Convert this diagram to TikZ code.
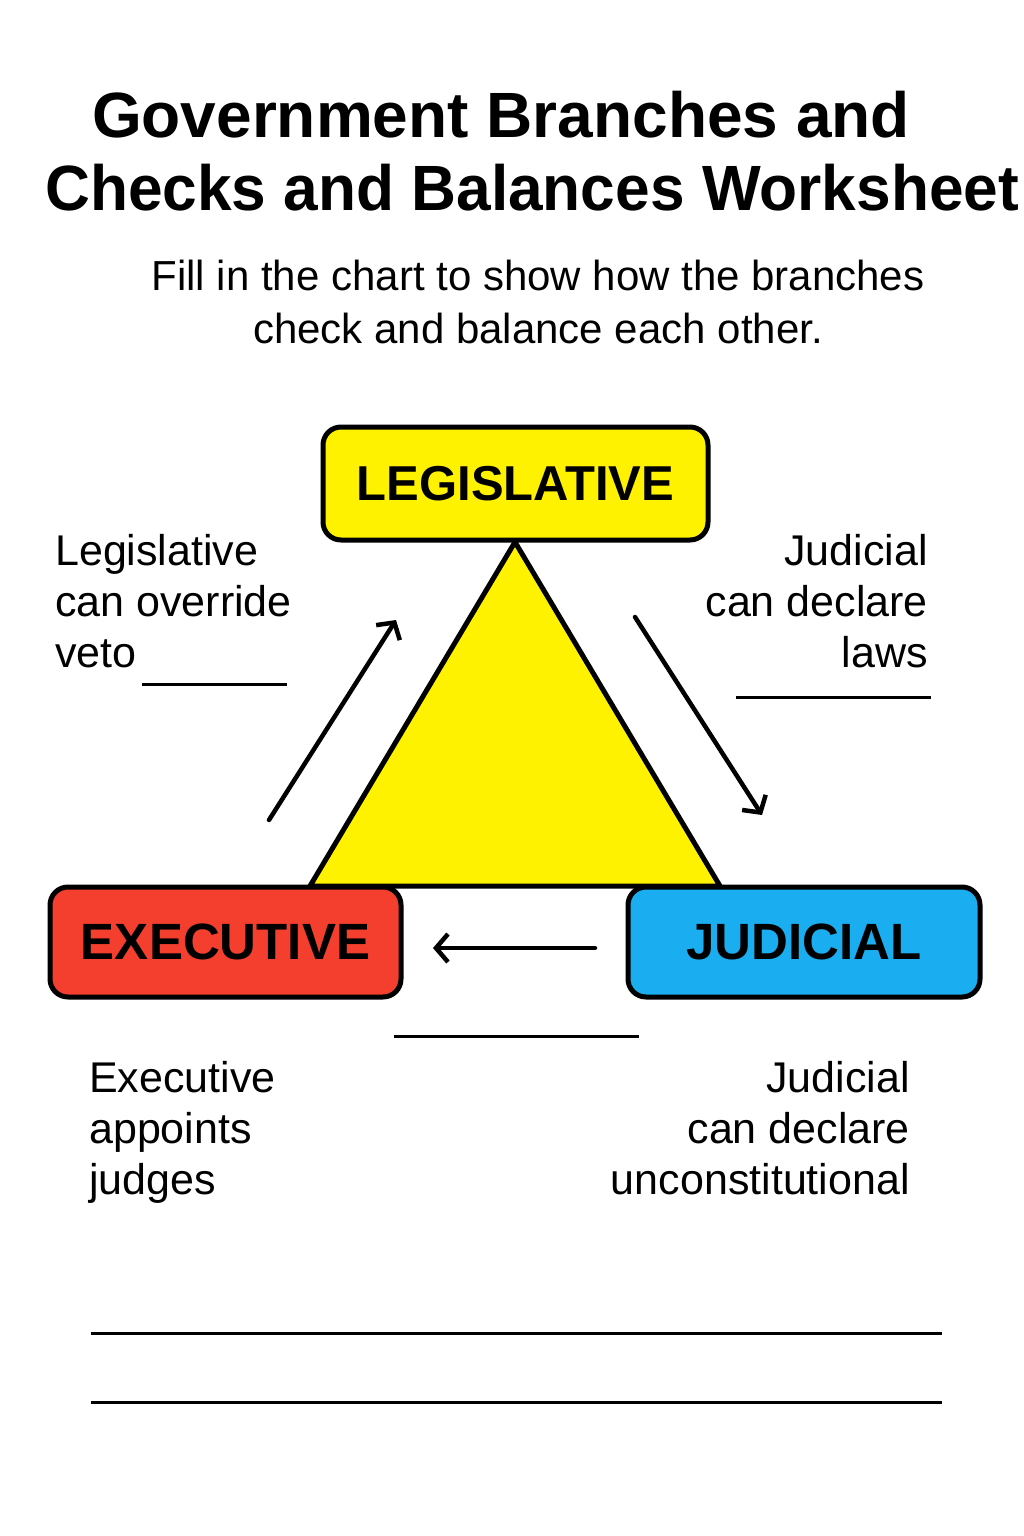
\documentclass[tikz,border=0pt]{standalone}
\usepackage{fontspec}
\setmainfont{Liberation Sans}
\usetikzlibrary{arrows.meta}
\definecolor{legyellow}{HTML}{FFF200}
\definecolor{exred}{HTML}{F43F2E}
\definecolor{judblue}{HTML}{1AAEF0}
\tikzset{
  branchbox/.style={draw=black, line width=5pt, rounded corners=18pt, inner sep=0pt,
    font=\fontsize{51}{60}\selectfont\bfseries},
  blurb/.style={inner sep=0pt, font=\fontsize{43}{51}\selectfont},
  checkarrow/.style={line width=4.5pt, line cap=round, -{Straight Barb[length=12pt,width=28pt,line width=4.5pt]}},
  blank/.style={line width=3pt},
}
\begin{document}
\begin{tikzpicture}[x=1pt,y=-1pt]
\useasboundingbox (0,0) rectangle (1024,1536);
\fill[white] (0,0) rectangle (1024,1536);
% title
\node[anchor=base, inner sep=0pt, font=\fontsize{64}{72}\selectfont\bfseries] (title1) at (501,138) {Government Branches and};
\node[anchor=base west, inner sep=0pt, font=\fontsize{64}{72}\selectfont\bfseries] (title2) at (45,210) {\scalebox{0.972}[1]{Checks and Balances Worksheet}};
\node[anchor=base, inner sep=0pt, font=\fontsize{42}{53}\selectfont] (sub1) at (538,290) {Fill in the chart to show how the branches};
\node[anchor=base, inner sep=0pt, font=\fontsize{42}{53}\selectfont] (sub2) at (538,343) {check and balance each other.};
% triangle
\coordinate (apex) at (515,542);
\coordinate (bl) at (310,886);
\coordinate (br) at (720,886);
\filldraw[fill=legyellow, draw=black, line width=5pt, line join=round] (apex) -- (bl) -- (br) -- cycle;
% boxes
\node[branchbox, fill=legyellow, minimum width=385pt, minimum height=113pt, font=\fontsize{49}{60}\selectfont\bfseries] (leg) at (515.5,483.5) {LEGISLATIVE};
\node[branchbox, fill=exred, minimum width=351pt, minimum height=110pt] (exe) at (225.5,942) {EXECUTIVE};
\node[branchbox, fill=judblue, minimum width=352pt, minimum height=110pt] (jud) at (804,942) {JUDICIAL};
% arrows
\coordinate (la0) at (269,820);
\coordinate (la1) at (396,620);
\coordinate (ra0) at (635,617);
\coordinate (ra1) at (762,815);
\coordinate (ba0) at (595,948);
\coordinate (ba1) at (433,948);
\draw[checkarrow] (la0) -- (la1);
\draw[checkarrow] (ra0) -- (ra1);
\draw[checkarrow] (ba0) -- (ba1);
% texts
\node[blurb, anchor=north west, align=left] (tl) at (55,534) {Legislative\\can override\\veto};
\node[blurb, anchor=north east, align=right] (tr) at (928,534) {Judicial\\can declare\\laws};
\node[blurb, anchor=north west, align=left] (bltxt) at (89,1061) {Executive\\appoints\\judges};
\node[blurb, anchor=north east, align=right] (brtxt) at (910,1061) {Judicial\\can declare\\unconstitutional};
% blanks
\coordinate (b1a) at (142,684); \coordinate (b1b) at (287,684);
\coordinate (b2a) at (736,697); \coordinate (b2b) at (931,697);
\coordinate (b3a) at (394,1036); \coordinate (b3b) at (639,1036);
\coordinate (b4a) at (91,1333); \coordinate (b4b) at (942,1333);
\coordinate (b5a) at (91,1402); \coordinate (b5b) at (942,1402);
\draw[blank] (b1a) -- (b1b);
\draw[blank] (b2a) -- (b2b);
\draw[blank] (b3a) -- (b3b);
\draw[blank] (b4a) -- (b4b);
\draw[blank] (b5a) -- (b5b);
\end{tikzpicture}
\end{document}
